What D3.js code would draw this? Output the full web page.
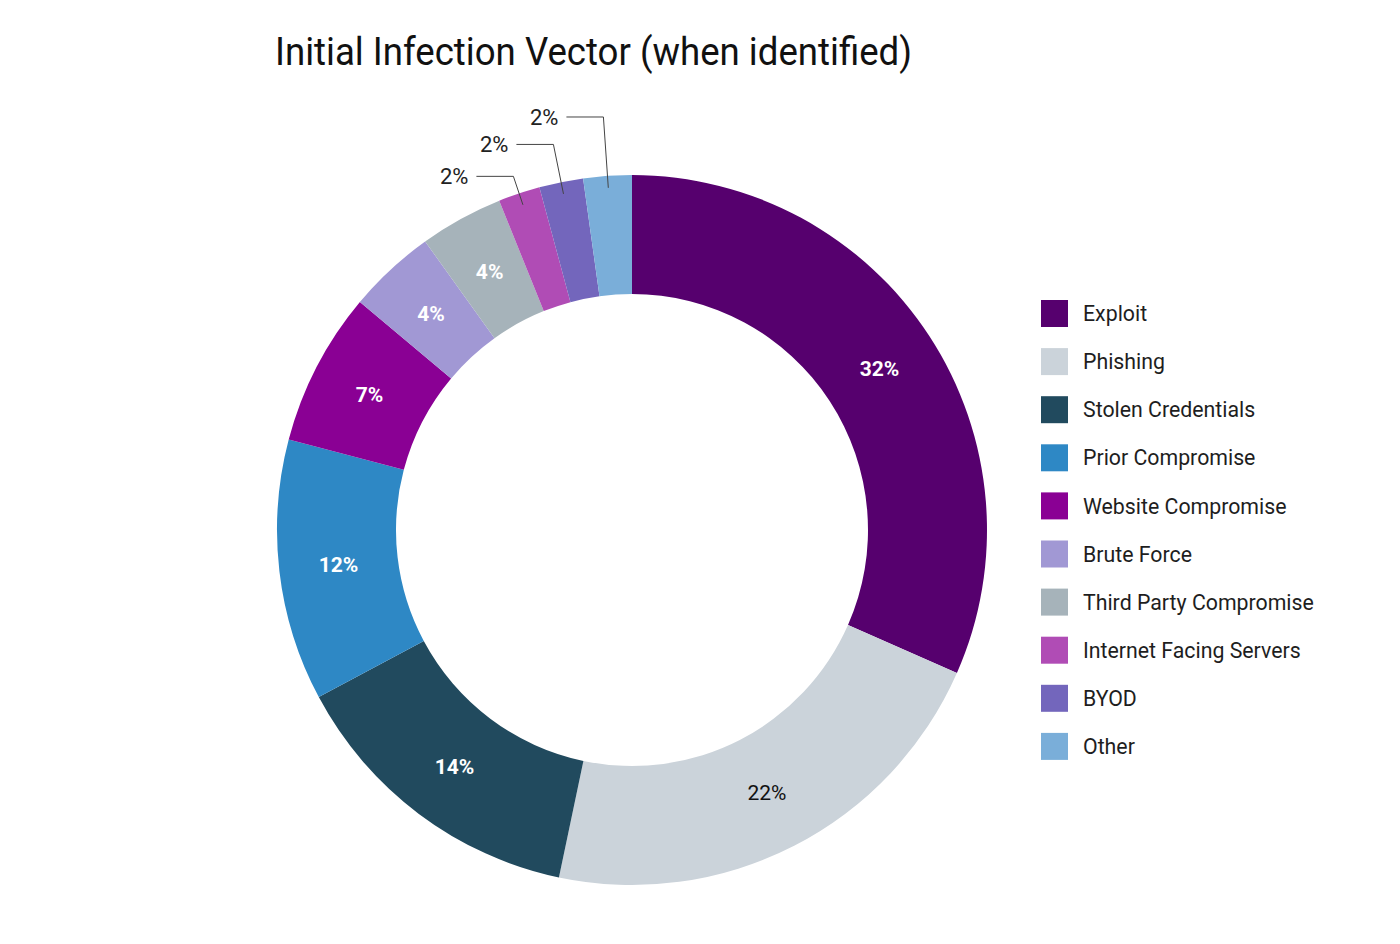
<!DOCTYPE html>
<html>
<head>
<meta charset="utf-8">
<script src="https://cdn.jsdelivr.net/npm/d3@7"></script>
<style>
  html, body { margin: 0; padding: 0; background: #fff; }
  svg { display: block; }
</style>
</head>
<body>
<svg id="chart" width="1400" height="944"></svg>
<script>
const categories = ["Exploit", "Phishing", "Stolen Credentials", "Prior Compromise", "Website Compromise", "Brute Force", "Third Party Compromise", "Internet Facing Servers", "BYOD", "Other"];
const values = [31.6, 21.7, 13.9, 11.9, 7.0, 4.0, 3.8, 1.9, 2.0, 2.2];
const labels = ["32%", "22%", "14%", "12%", "7%", "4%", "4%", "2%", "2%", "2%"];
const colors = ["#56006e", "#cbd3da", "#214a5e", "#2e88c5", "#8a0094", "#a198d4", "#a6b3ba", "#b04cb5", "#7366bc", "#7aaed9"];
const title = "Initial Infection Vector (when identified)";

const svg = d3.select("#chart");
const cx = 632, cy = 530, rOuter = 355, rInner = 236;

svg.append("text")
  .attr("x", 275).attr("y", 65)
  .attr("font-family", "Roboto, sans-serif")
  .attr("font-size", 39)
  .attr("fill", "#111")
  .attr("textLength", 637)
  .attr("lengthAdjust", "spacingAndGlyphs")
  .text(title);

const data = categories.map((c, i) => ({ name: c, value: values[i], label: labels[i], color: colors[i] }));
const pie = d3.pie().sort(null).value(d => d.value);
const arcs = pie(data);
const arc = d3.arc().innerRadius(rInner).outerRadius(rOuter);

const g = svg.append("g").attr("transform", `translate(${cx},${cy})`);
g.selectAll("path.slice").data(arcs).enter().append("path")
  .attr("class", "slice")
  .attr("d", arc)
  .attr("fill", d => d.data.color);

// inner labels for larger slices
const bigArcs = arcs.filter(d => d.data.value >= 3);
g.selectAll("text.inlbl").data(bigArcs).enter().append("text")
  .attr("class", "inlbl")
  .attr("transform", d => `translate(${arc.centroid(d)})`)
  .attr("text-anchor", "middle")
  .attr("dy", "0.36em")
  .attr("font-family", "Roboto, sans-serif")
  .attr("font-size", 21)
  .attr("font-weight", d => d.data.name === "Phishing" ? 400 : 700)
  .attr("fill", d => d.data.name === "Phishing" ? "#111" : "#fff")
  .text(d => d.data.label);

// outer labels for small slices with leader lines
const smallArcs = arcs.filter(d => d.data.value < 3);
smallArcs.forEach((d, k) => {
  const a = (d.startAngle + d.endAngle) / 2;
  const r0 = rOuter - 12;
  const r1 = rOuter + 18 + 20.5 * k;
  const p0 = [Math.sin(a) * r0, -Math.cos(a) * r0];
  const p1 = [Math.sin(a) * r1, -Math.cos(a) * r1];
  const p2 = [p1[0] - 37, p1[1]];
  g.append("path")
    .attr("d", d3.line()([p0, p1, p2]))
    .attr("fill", "none")
    .attr("stroke", "#444")
    .attr("stroke-width", 1);
  g.append("text")
    .attr("x", p2[0] - 8).attr("y", p2[1])
    .attr("dy", "0.36em")
    .attr("text-anchor", "end")
    .attr("font-family", "Roboto, sans-serif")
    .attr("font-size", 22)
    .attr("fill", "#222")
    .text(d.data.label);
});

// legend
const legend = svg.append("g").attr("transform", "translate(1041,300)");
const step = 48.1;
const items = legend.selectAll("g.item").data(data).enter().append("g")
  .attr("class", "item")
  .attr("transform", (d, i) => `translate(0,${i * step})`);
items.append("rect")
  .attr("width", 27).attr("height", 27)
  .attr("fill", d => d.color);
items.append("text")
  .attr("x", 42).attr("y", 13.5)
  .attr("dy", "0.36em")
  .attr("font-family", "Roboto, sans-serif")
  .attr("font-size", 21.3)
  .attr("fill", "#1e1e1e")
  .text(d => d.name);
</script>
</body>
</html>
